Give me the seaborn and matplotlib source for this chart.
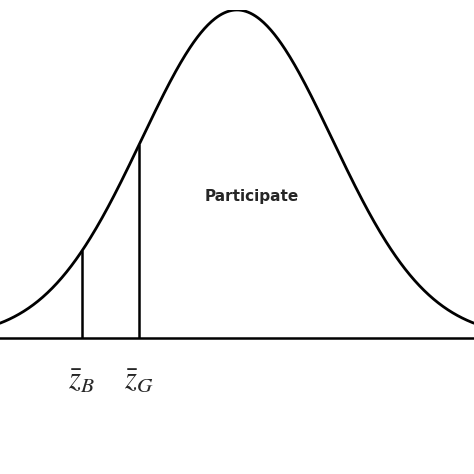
import numpy as np
import pandas as pd
import matplotlib
matplotlib.use("Agg")
import matplotlib.pyplot as plt
import seaborn as sns

sns.set_style("white")
plt.rcParams['mathtext.fontset'] = 'stix'

x_min, x_max = -2.49, 2.49
marker_x = [-1.63, -1.03]
marker_labels = [r'$\bar{z}_B$', r'$\bar{z}_G$']
region_label = "Participate"

xs = np.linspace(x_min, x_max, 400)
df = pd.DataFrame({"x": xs, "y": np.exp(-xs**2 / 2)})

fig = plt.figure(figsize=(4.74, 4.74), dpi=100)
ax = fig.add_axes([0, 0.287, 1, 0.692])
sns.lineplot(data=df, x="x", y="y", ax=ax, color="black", lw=2)
for mx, lab in zip(marker_x, marker_labels):
    ax.plot([mx, mx], [0, np.exp(-mx**2 / 2)], color="black", lw=1.8)
    ax.text(mx, -0.13, lab, ha="center", va="center", fontsize=22, clip_on=False)
ax.text(0.15, 0.43, region_label, ha="center", va="center", fontsize=11, fontweight="bold")
ax.set_xlim(x_min, x_max)
ax.set_ylim(0, 1)
for s in ["top", "left", "right"]:
    ax.spines[s].set_visible(False)
ax.spines["bottom"].set_color("black")
ax.spines["bottom"].set_linewidth(1.8)
ax.set_xticks([]); ax.set_yticks([])
ax.set_xlabel(""); ax.set_ylabel("")
fig.savefig("out.png", dpi=100)
